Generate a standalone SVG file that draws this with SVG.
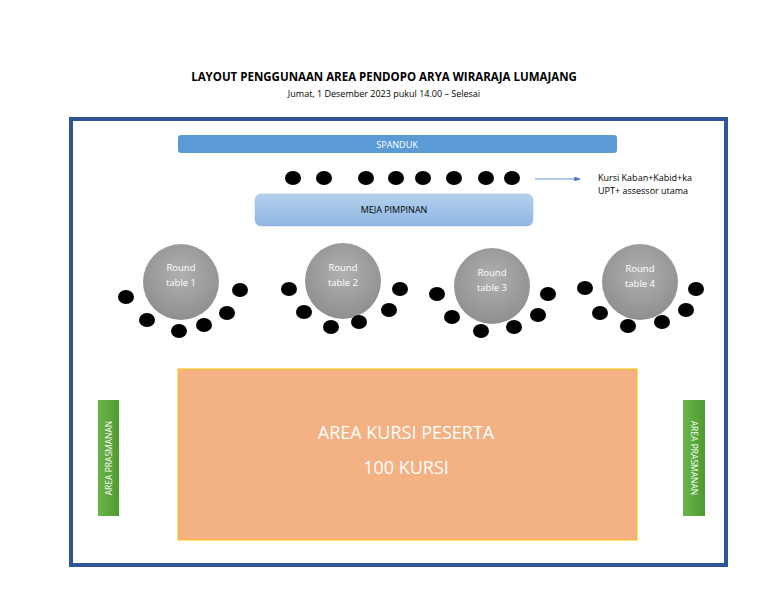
<svg xmlns="http://www.w3.org/2000/svg" width="768" height="594" viewBox="0 0 768 594">
<style>
text{font-family:"Open Sans","Liberation Sans",sans-serif}
.ch{fill:#000}
.rt{fill:url(#gr)}
.tl{fill:#fff;font-size:9.5px;text-anchor:middle}
.gb{fill:url(#gg)}
.gt{fill:#fff;font-size:8.5px;text-anchor:middle}
</style>
<defs>
<radialGradient id="gr" cx="50%" cy="40%" r="60%"><stop offset="0" stop-color="#b0b0b0"/><stop offset="1" stop-color="#8f8f8f"/></radialGradient>
<linearGradient id="gm" x1="0" y1="0" x2="0" y2="1"><stop offset="0" stop-color="#b4d0ee"/><stop offset="1" stop-color="#8fb6e2"/></linearGradient>
<linearGradient id="gg" x1="0" y1="0" x2="1" y2="0"><stop offset="0" stop-color="#6bb54a"/><stop offset="1" stop-color="#4e9a32"/></linearGradient>
<marker id="ar" markerWidth="8" markerHeight="6" refX="7" refY="3" orient="auto"><path d="M0,0L8,3L0,6z" fill="#4472C4"/></marker>
</defs>
<rect width="768" height="594" fill="#fff"/>
<text x="384" y="81" font-size="11.5" font-weight="bold" text-anchor="middle">LAYOUT PENGGUNAAN AREA PENDOPO ARYA WIRARAJA LUMAJANG</text>
<text x="384" y="97" font-size="9" text-anchor="middle">Jumat, 1 Desember 2023 pukul 14.00 – Selesai</text>
<rect id="frame" x="71" y="119" width="655" height="446" fill="none" stroke="#2F5597" stroke-width="4"/>
<g id="spanduk"><rect x="178" y="135" width="439" height="18" rx="3" fill="#5B9BD5"/><text x="397" y="148" font-size="9" fill="#fff" text-anchor="middle">SPANDUK</text></g>
<g id="kursi-pimpinan">
<ellipse class="ch" cx="293" cy="178" rx="8" ry="7"/><ellipse class="ch" cx="324" cy="178" rx="8" ry="7"/><ellipse class="ch" cx="366" cy="178" rx="8" ry="7"/><ellipse class="ch" cx="396" cy="178" rx="8" ry="7"/><ellipse class="ch" cx="423" cy="178" rx="8" ry="7"/><ellipse class="ch" cx="454" cy="178" rx="8" ry="7"/><ellipse class="ch" cx="486" cy="178" rx="8" ry="7"/><ellipse class="ch" cx="512" cy="178" rx="8" ry="7"/>
</g>
<g id="connectors"><line x1="535" y1="179" x2="580" y2="179" stroke="#4472C4" stroke-width="0.8" marker-end="url(#ar)"/></g>
<g id="label-kursi"><text x="598" y="181" font-size="9">Kursi Kaban+Kabid+ka</text><text x="598" y="194" font-size="9">UPT+ assessor utama</text></g>
<g id="meja"><rect x="255" y="194" width="278" height="32" rx="6" fill="url(#gm)" stroke="#9dc0e6" stroke-width="0.6"/><text x="394" y="213" font-size="9" text-anchor="middle">MEJA PIMPINAN</text></g>
<g id="table1"><circle class="rt" cx="181" cy="282" r="38"/><text class="tl" x="181" y="271">Round</text><text class="tl" x="181" y="286">table 1</text>
<ellipse class="ch" cx="126" cy="297" rx="8" ry="7"/><ellipse class="ch" cx="147" cy="320" rx="8" ry="7"/><ellipse class="ch" cx="179" cy="331" rx="8" ry="7"/><ellipse class="ch" cx="204" cy="325" rx="8" ry="7"/><ellipse class="ch" cx="227" cy="313" rx="8" ry="7"/><ellipse class="ch" cx="240" cy="290" rx="8" ry="7"/></g>
<g id="table2"><circle class="rt" cx="343" cy="281" r="38"/><text class="tl" x="343" y="271">Round</text><text class="tl" x="343" y="286">table 2</text>
<ellipse class="ch" cx="289" cy="289" rx="8" ry="7"/><ellipse class="ch" cx="304" cy="312" rx="8" ry="7"/><ellipse class="ch" cx="331" cy="327" rx="8" ry="7"/><ellipse class="ch" cx="359" cy="322" rx="8" ry="7"/><ellipse class="ch" cx="389" cy="310" rx="8" ry="7"/><ellipse class="ch" cx="400" cy="289" rx="8" ry="7"/></g>
<g id="table3"><circle class="rt" cx="492" cy="286" r="38"/><text class="tl" x="492" y="276">Round</text><text class="tl" x="492" y="291">table 3</text>
<ellipse class="ch" cx="437" cy="294" rx="8" ry="7"/><ellipse class="ch" cx="452" cy="317" rx="8" ry="7"/><ellipse class="ch" cx="481" cy="331" rx="8" ry="7"/><ellipse class="ch" cx="514" cy="327" rx="8" ry="7"/><ellipse class="ch" cx="538" cy="315" rx="8" ry="7"/><ellipse class="ch" cx="548" cy="294" rx="8" ry="7"/></g>
<g id="table4"><circle class="rt" cx="640" cy="282" r="38"/><text class="tl" x="640" y="272">Round</text><text class="tl" x="640" y="287">table 4</text>
<ellipse class="ch" cx="585" cy="288" rx="8" ry="7"/><ellipse class="ch" cx="600" cy="313" rx="8" ry="7"/><ellipse class="ch" cx="628" cy="326" rx="8" ry="7"/><ellipse class="ch" cx="662" cy="322" rx="8" ry="7"/><ellipse class="ch" cx="686" cy="310" rx="8" ry="7"/><ellipse class="ch" cx="696" cy="289" rx="8" ry="7"/></g>
<g id="area-peserta"><rect x="178" y="369" width="459" height="171" fill="#F4B183" stroke="#FFC000" stroke-width="1"/><text x="406" y="439" font-size="18" fill="#fff" text-anchor="middle">AREA KURSI PESERTA</text><text x="406" y="474" font-size="18" fill="#fff" text-anchor="middle">100 KURSI</text></g>
<g id="prasmanan-kiri"><rect class="gb" x="98" y="400" width="21" height="116"/><text class="gt" transform="translate(111.5,458) rotate(-90)">AREA PRASMANAN</text></g>
<g id="prasmanan-kanan"><rect class="gb" x="683" y="400" width="22" height="116"/><text class="gt" transform="translate(691,458) rotate(90)">AREA PRASMANAN</text></g>
</svg>
